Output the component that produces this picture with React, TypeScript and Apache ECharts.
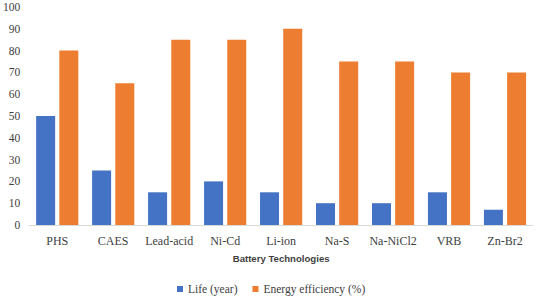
import React, { useEffect, useRef } from "react";
import * as echarts from "echarts";

const categories = ["PHS", "CAES", "Lead-acid", "Ni-Cd", "Li-ion", "Na-S", "Na-NiCl2", "VRB", "Zn-Br2"];
const lifeYears = [50, 25, 15, 20, 15, 10, 10, 15, 7];
const efficiency = [80, 65, 85, 85, 90, 75, 75, 70, 70];

export default function App() {
  const ref = useRef<HTMLDivElement>(null);
  useEffect(() => {
    const chart = echarts.init(ref.current!, null, { renderer: "svg" });
    const serif = "Liberation Serif";
    chart.setOption({
      animation: false,
      grid: { left: 29, right: 17, top: 7, bottom: 76, containLabel: false },
      legend: {
        top: 283,
        left: 177,
        padding: 0,
        itemWidth: 6,
        itemHeight: 6,
        itemGap: 15,
        icon: "rect",
        textStyle: { fontFamily: serif, fontSize: 11.5, color: "#404040" },
        data: ["Life (year)", "Energy efficiency (%)"],
      },
      xAxis: {
        type: "category",
        data: categories,
        name: "Battery Technologies",
        nameLocation: "middle",
        nameGap: 28,
        nameTextStyle: { fontFamily: "Liberation Sans", fontWeight: "bold", fontSize: 9.6, color: "#404040" },
        axisLine: { lineStyle: { color: "#d9d9d9" } },
        axisTick: { show: false },
        axisLabel: { fontFamily: serif, fontSize: 12, color: "#404040", margin: 10, interval: 0 },
      },
      yAxis: {
        type: "value",
        min: 0,
        max: 100,
        interval: 10,
        splitLine: { show: false },
        axisLine: { show: false },
        axisTick: { show: false },
        axisLabel: { fontFamily: serif, fontSize: 11.5, color: "#404040", margin: 9 },
      },
      series: [
        {
          name: "Life (year)",
          type: "bar",
          data: lifeYears,
          barWidth: 19,
          barGap: "22%",
          itemStyle: { color: "#4472C4" },
        },
        {
          name: "Energy efficiency (%)",
          type: "bar",
          data: efficiency,
          barWidth: 19,
          itemStyle: { color: "#ED7D31" },
        },
      ],
    });
    return () => chart.dispose();
  }, []);
  return <div ref={ref} style={{ width: 550, height: 301, position: "absolute", left: 0, top: 0 }} />;
}
